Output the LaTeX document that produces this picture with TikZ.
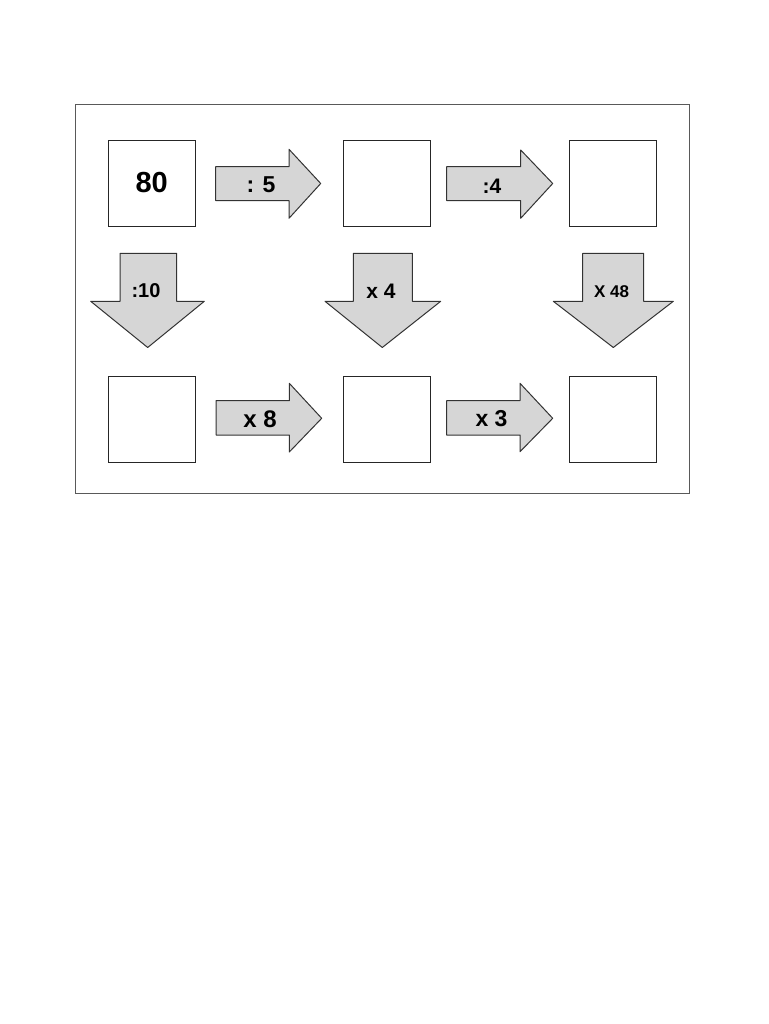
\documentclass[tikz,border=0pt]{standalone}
\usepackage{fontspec}
\setmainfont{Liberation Sans}
\usepackage{tikz}
\usetikzlibrary{scopes}

\tikzset{
	cell/.style={draw=black!85, fill=white, line width=0.9pt, minimum width=87pt, minimum height=86pt, font=\bfseries\fontsize{29}{30}\selectfont},
	arrowshape/.style={draw=black!80, fill=black!16, line width=1pt, line join=round},
	oplabel/.style={font=\bfseries\fontsize{#1}{#1}\selectfont}
}

\begin{document}
\begin{tikzpicture}[x=1pt,y=-1pt]
	\useasboundingbox (0,0) rectangle (768,1024);
	\draw[black!65, line width=1pt] (75.5,105) rectangle (689,493.5);

	\node[cell] (top1) at (151.7,183) {80};
	\node[cell] (top2) at (387,183) {};
	\node[cell] (top3) at (613.3,183) {};
	\node[cell] (bot1) at (151.7,419) {};
	\node[cell] (bot2) at (387,419) {};
	\node[cell] (bot3) at (613.3,419) {};

	\draw[arrowshape] (215.7,166.7) -- (289,166.7) -- (289,149.3) -- (320.7,183.5) -- (289,218.3) -- (289,200.7) -- (215.7,200.7) -- cycle;
	\draw[arrowshape] (446.7,166.7) -- (520.7,166.7) -- (520.7,150) -- (552.7,183.5) -- (520.7,218.3) -- (520.7,200.7) -- (446.7,200.7) -- cycle;
	\draw[arrowshape] (216,400.7) -- (289.3,400.7) -- (289.3,383.3) -- (321.7,418.3) -- (289.3,452) -- (289.3,435) -- (216,435) -- cycle;
	\draw[arrowshape] (446.7,400.7) -- (520,400.7) -- (520,383.3) -- (552.7,418.3) -- (520,451.7) -- (520,435) -- (446.7,435) -- cycle;

	\draw[arrowshape] (120,253.3) -- (176.7,253.3) -- (176.7,301.3) -- (204.3,301.3) -- (147.7,347.5) -- (90.7,301.3) -- (120,301.3) -- cycle;
	\draw[arrowshape] (353.3,253.3) -- (412.3,253.3) -- (412.3,301.3) -- (440.7,301.3) -- (382.3,347.5) -- (325,301.3) -- (353.3,301.3) -- cycle;
	\draw[arrowshape] (582.7,253.3) -- (643.7,253.3) -- (643.7,301.3) -- (673.3,301.3) -- (613.3,347.5) -- (553.3,301.3) -- (582.7,301.3) -- cycle;

	\node[oplabel=23] (div5) at (261,185) {: 5};
	\node[oplabel=21] (div4) at (492,186) {:4};
	\node[oplabel=24] (mul8) at (260,419) {x 8};
	\node[oplabel=23] (mul3) at (491.5,419) {x 3};
	\node[oplabel=20] (div10) at (146,290.5) {:10};
	\node[oplabel=21] (mul4) at (381,291) {x 4};
	\node[oplabel=17] (mul48) at (611.5,292) {X 48};
\end{tikzpicture}
\end{document}
